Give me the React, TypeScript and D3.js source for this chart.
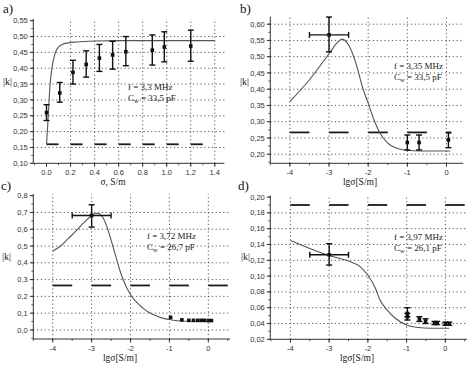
import React from 'react';
import * as d3 from 'd3';

const W = 474, H = 370;

// ---------- Panel a ----------
const aPtX = [0.0, 0.11, 0.22, 0.33, 0.44, 0.55, 0.66, 0.88, 0.98, 1.2];
const aPtY = [0.26, 0.322, 0.387, 0.412, 0.432, 0.442, 0.452, 0.457, 0.467, 0.47];
const aPtLo = [0.235, 0.293, 0.35, 0.372, 0.39, 0.397, 0.408, 0.41, 0.42, 0.422];
const aPtHi = [0.285, 0.355, 0.425, 0.455, 0.475, 0.485, 0.5, 0.505, 0.515, 0.52];
const aCurveX = [0, 0.01, 0.02, 0.03, 0.045, 0.06, 0.08, 0.1, 0.13, 0.18, 0.25, 0.4, 0.6, 1.0, 1.4];
const aCurveY = [0.16, 0.22, 0.29, 0.35, 0.40, 0.43, 0.455, 0.467, 0.475, 0.48, 0.483, 0.486, 0.487, 0.487, 0.487];
const aXTicks = [0, 0.2, 0.4, 0.6, 0.8, 1.0, 1.2, 1.4];
const aYTicks = [0.10, 0.15, 0.20, 0.25, 0.30, 0.35, 0.40, 0.45, 0.50, 0.55];
const aDashLevel = 0.16;
const aDashStarts = [0, 0.2, 0.4, 0.6, 0.8, 1.0, 1.2];
const aDashEnds = [0.1, 0.3, 0.5, 0.7, 0.9, 1.1, 1.3];

// ---------- Panel b ----------
const bPtX = [-1.0, -0.7, 0.05];
const bPtY = [0.236, 0.236, 0.244];
const bPtLo = [0.213, 0.213, 0.22];
const bPtHi = [0.259, 0.259, 0.266];
const bBigX = -3, bBigY = 0.567, bBigYLo = 0.515, bBigYHi = 0.622, bBigXLo = -3.5, bBigXHi = -2.5;
const bCurveX = [-4, -3.5, -3, -2.8, -2.66, -2.5, -2.3, -2.15, -2.0, -1.85, -1.7, -1.5, -1.2, -1.0, -0.7, 0.1];
const bCurveY = [0.362, 0.429, 0.509, 0.542, 0.554, 0.536, 0.475, 0.408, 0.357, 0.305, 0.265, 0.234, 0.216, 0.212, 0.21, 0.21];
const bXTicks = [-4, -3, -2, -1, 0];
const bYTicks = [0.20, 0.25, 0.30, 0.35, 0.40, 0.45, 0.50, 0.55, 0.60];
const bDashLevel = 0.267;
const bDashStarts = [-4, -3, -2, -1, 0];
const bDashEnds = [-3.5, -2.5, -1.5, -0.5, 0.12];

// ---------- Panel c ----------
const cPtX = [-0.97, -0.68, -0.5, -0.38, -0.27, -0.18, -0.1, 0.0, 0.08];
const cPtY = [0.075, 0.06, 0.057, 0.057, 0.057, 0.057, 0.057, 0.056, 0.056];
const cBigX = -3, cBigY = 0.682, cBigYLo = 0.613, cBigYHi = 0.746, cBigXLo = -3.5, cBigXHi = -2.5;
const cCurveX = [-4, -3.8, -3.6, -3.4, -3.2, -3.0, -2.9, -2.8, -2.7, -2.6, -2.5, -2.4, -2.3, -2.2, -2.0, -1.8, -1.6, -1.4, -1.2, -1.0, -0.8, -0.6, 0.1];
const cCurveY = [0.47, 0.50, 0.545, 0.59, 0.64, 0.68, 0.695, 0.692, 0.665, 0.61, 0.535, 0.455, 0.375, 0.305, 0.21, 0.155, 0.115, 0.09, 0.072, 0.062, 0.055, 0.052, 0.05];
const cXTicks = [-4, -3, -2, -1, 0];
const cYTicks = [0.0, 0.1, 0.2, 0.3, 0.4, 0.5, 0.6, 0.7, 0.8];
const cDashLevel = 0.265;
const cDashStarts = [-4, -3, -2, -1, 0];
const cDashEnds = [-3.5, -2.5, -1.5, -0.5, 0.5];

// ---------- Panel d ----------
const dPtX = [-0.98, -0.98, -0.67, -0.51, -0.28, -0.21, 0.0, 0.1];
const dPtY = [0.0528, 0.0485, 0.0456, 0.043, 0.0406, 0.0406, 0.0397, 0.0397];
const dPtLo = [0.0485, 0.0444, 0.0426, 0.040, 0.0386, 0.0386, 0.0377, 0.0377];
const dPtHi = [0.060, 0.0528, 0.0486, 0.046, 0.0426, 0.0426, 0.0417, 0.0417];
const dBigX = -3, dBigY = 0.127, dBigYLo = 0.114, dBigYHi = 0.141, dBigXLo = -3.5, dBigXHi = -2.5;
const dCurveX = [-4, -3.5, -3, -2.5, -2.2, -2.0, -1.8, -1.7, -1.5, -1.3, -1.0, -0.7, -0.4, 0.1];
const dCurveY = [0.145, 0.135, 0.126, 0.119, 0.112, 0.101, 0.084, 0.071, 0.057, 0.047, 0.038, 0.035, 0.034, 0.034];
const dXTicks = [-4, -3, -2, -1, 0];
const dYTicks = [0.02, 0.04, 0.06, 0.08, 0.10, 0.12, 0.14, 0.16, 0.18, 0.20];
const dDashLevel = 0.19;
const dDashStarts = [-4, -3, -2, -1, 0];
const dDashEnds = [-3.5, -2.5, -1.5, -0.5, 0.5];

const comma = (f: (n: number) => string) => (n: number) => f(n).replace('.', ',').replace('−', '-');

type Spec = {
  xDomain: number[]; xRange: number[]; yDomain: number[]; yRange: number[];
  xTicks: number[]; yTicks: number[]; xMinorStep: number; yMinorStep: number;
  xFmt: (n: number) => string; yFmt: (n: number) => string;
  gridX: number[]; gridY: number[];
  curveX: number[]; curveY: number[];
  ptX: number[]; ptY: number[]; ptLo?: number[]; ptHi?: number[];
  big?: { x: number; y: number; yLo: number; yHi: number; xLo: number; xHi: number };
  dashLevel: number; dashStarts: number[]; dashEnds: number[];
  label: string; labelPos: number[];
  xLabel: string; xLabelPos: number[];
  kPos: number[];
  fText: string; cText: string; textPos: number[];
};

const AXIS = '#333';
const INK = '#111';
const SANS = "'Liberation Sans', Arial, sans-serif";
const SERIF = "'Liberation Serif', 'Times New Roman', serif";

function Panel({ s }: { s: Spec }) {
  const x = d3.scaleLinear().domain(s.xDomain).range(s.xRange);
  const y = d3.scaleLinear().domain(s.yDomain).range(s.yRange);
  const x0 = s.xRange[0], x1 = s.xRange[1];
  const yb = s.yRange[0], yt = s.yRange[1];
  const line = d3.line<number>().x((_, i) => x(s.curveX[i])).y(d => y(d)).curve(d3.curveMonotoneX);
  const xMinor = d3.range(Math.ceil(s.xDomain[0] / s.xMinorStep) * s.xMinorStep, s.xDomain[1] + 1e-9, s.xMinorStep);
  const yMinor = d3.range(Math.ceil(s.yDomain[0] / s.yMinorStep) * s.yMinorStep, s.yDomain[1] + 1e-9, s.yMinorStep);
  const cap = 3;
  return (
    <g>
      {s.gridY.map((v, i) => (
        <line key={'gy' + i} x1={x0} x2={x1} y1={y(v)} y2={y(v)} stroke="#444" strokeWidth={0.9} strokeDasharray="1.2,2.6" />
      ))}
      {s.gridX.map((v, i) => (
        <line key={'gx' + i} x1={x(v)} x2={x(v)} y1={yb} y2={yt} stroke="#444" strokeWidth={0.9} strokeDasharray="1.2,2.6" />
      ))}
      {s.dashStarts.map((v, i) => (
        <line key={'ds' + i} x1={x(v)} x2={x(s.dashEnds[i])} y1={y(s.dashLevel)} y2={y(s.dashLevel)} stroke="#1a1a1a" strokeWidth={1.8} />
      ))}
      <path d={line(s.curveY) || ''} fill="none" stroke="#555" strokeWidth={1.1} />
      {s.ptLo && s.ptHi && s.ptX.map((v, i) => (
        <g key={'eb' + i} stroke={INK} strokeWidth={1.4}>
          <line x1={x(v)} x2={x(v)} y1={y(s.ptLo![i])} y2={y(s.ptHi![i])} />
          <line x1={x(v) - cap} x2={x(v) + cap} y1={y(s.ptLo![i])} y2={y(s.ptLo![i])} />
          <line x1={x(v) - cap} x2={x(v) + cap} y1={y(s.ptHi![i])} y2={y(s.ptHi![i])} />
        </g>
      ))}
      {s.ptX.map((v, i) => (
        <rect key={'pt' + i} x={x(v) - 1.8} y={y(s.ptY[i]) - 1.8} width={3.6} height={3.6} fill={INK} />
      ))}
      {s.big && (
        <g stroke={INK} strokeWidth={1.4}>
          <line x1={x(s.big.x)} x2={x(s.big.x)} y1={y(s.big.yLo)} y2={y(s.big.yHi)} />
          <line x1={x(s.big.x) - cap} x2={x(s.big.x) + cap} y1={y(s.big.yLo)} y2={y(s.big.yLo)} />
          <line x1={x(s.big.x) - cap} x2={x(s.big.x) + cap} y1={y(s.big.yHi)} y2={y(s.big.yHi)} />
          <line x1={x(s.big.xLo)} x2={x(s.big.xHi)} y1={y(s.big.y)} y2={y(s.big.y)} />
          <line x1={x(s.big.xLo)} x2={x(s.big.xLo)} y1={y(s.big.y) - cap} y2={y(s.big.y) + cap} />
          <line x1={x(s.big.xHi)} x2={x(s.big.xHi)} y1={y(s.big.y) - cap} y2={y(s.big.y) + cap} />
          <rect x={x(s.big.x) - 1.8} y={y(s.big.y) - 1.8} width={3.6} height={3.6} fill={INK} stroke="none" />
        </g>
      )}
      <line x1={x0} x2={x0} y1={yb} y2={yt} stroke={AXIS} strokeWidth={1} />
      <line x1={x0} x2={x1} y1={yb} y2={yb} stroke={AXIS} strokeWidth={1} />
      {xMinor.map((v, i) => (
        <line key={'xm' + i} x1={x(v)} x2={x(v)} y1={yb} y2={yb + 2} stroke={AXIS} strokeWidth={0.8} />
      ))}
      {yMinor.map((v, i) => (
        <line key={'ym' + i} x1={x0 - 2} x2={x0} y1={y(v)} y2={y(v)} stroke={AXIS} strokeWidth={0.8} />
      ))}
      {s.xTicks.map((v, i) => (
        <g key={'xt' + i}>
          <line x1={x(v)} x2={x(v)} y1={yb} y2={yb + 3.5} stroke={AXIS} strokeWidth={1} />
          <text x={x(v)} y={yb + 11.5} textAnchor="middle" fontSize={7.5} fontFamily={SANS} fill="#333">{s.xFmt(v)}</text>
        </g>
      ))}
      {s.yTicks.map((v, i) => (
        <g key={'yt' + i}>
          <line x1={x0 - 3.5} x2={x0} y1={y(v)} y2={y(v)} stroke={AXIS} strokeWidth={1} />
          <text x={x0 - 5.5} y={y(v) + 2.6} textAnchor="end" fontSize={7.5} fontFamily={SANS} fill="#333">{s.yFmt(v)}</text>
        </g>
      ))}
      <text x={s.labelPos[0]} y={s.labelPos[1]} fontSize={13} fontFamily={SERIF} fill="#111">{s.label}</text>
      <text x={s.xLabelPos[0]} y={s.xLabelPos[1]} textAnchor="middle" fontSize={9.5} fontFamily={SERIF} fill="#222">{s.xLabel}</text>
      <text x={s.kPos[0]} y={s.kPos[1]} fontSize={10} fontFamily={SERIF} fill="#222">|k|</text>
      <text x={s.textPos[0]} y={s.textPos[1]} fontSize={9} fontFamily={SERIF} fill="#222">{s.fText}</text>
      <text x={s.textPos[0]} y={s.textPos[1] + 11} fontSize={9} fontFamily={SERIF} fill="#222">
        C<tspan fontSize={6.5} dy={2}>w</tspan><tspan dy={-2}>{' = ' + s.cText}</tspan>
      </text>
    </g>
  );
}

const fmtInt = (n: number) => d3.format('d')(n).replace('−', '-');

const specs: Spec[] = [
  {
    xDomain: [-0.11, 1.48], xRange: [33.3, 224.4], yDomain: [0.1, 0.556], yRange: [163.3, 18.8],
    xTicks: aXTicks, yTicks: aYTicks, xMinorStep: 0.1, yMinorStep: 0.025,
    xFmt: d3.format('.1f'), yFmt: comma(d3.format('.2f')),
    gridX: aXTicks.slice(1), gridY: aYTicks.slice(1, -1),
    curveX: aCurveX, curveY: aCurveY,
    ptX: aPtX, ptY: aPtY, ptLo: aPtLo, ptHi: aPtHi,
    dashLevel: aDashLevel, dashStarts: aDashStarts, dashEnds: aDashEnds,
    label: 'a)', labelPos: [3, 13], xLabel: 'σ, S/m', xLabelPos: [113, 185], kPos: [3, 85],
    fText: 'f = 3,3 MHz', cText: '33,5 pF', textPos: [128, 90],
  },
  {
    xDomain: [-4.5, 0.43], xRange: [270.3, 463.3], yDomain: [0.172, 0.623], yRange: [163.3, 16.7],
    xTicks: bXTicks, yTicks: bYTicks, xMinorStep: 0.5, yMinorStep: 0.025,
    xFmt: fmtInt, yFmt: comma(d3.format('.2f')),
    gridX: bXTicks, gridY: bYTicks,
    curveX: bCurveX, curveY: bCurveY,
    ptX: bPtX, ptY: bPtY, ptLo: bPtLo, ptHi: bPtHi,
    big: { x: bBigX, y: bBigY, yLo: bBigYLo, yHi: bBigYHi, xLo: bBigXLo, xHi: bBigXHi },
    dashLevel: bDashLevel, dashStarts: bDashStarts, dashEnds: bDashEnds,
    label: 'b)', labelPos: [240, 13], xLabel: 'lgσ[S/m]', xLabelPos: [360, 185], kPos: [240, 85],
    fText: 'f = 3,35 MHz', cText: '33,5 pF', textPos: [394, 69],
  },
  {
    xDomain: [-4.5, 0.56], xRange: [33.3, 230.1], yDomain: [-0.054, 0.81], yRange: [339, 194],
    xTicks: cXTicks, yTicks: cYTicks, xMinorStep: 0.5, yMinorStep: 0.05,
    xFmt: fmtInt, yFmt: comma(d3.format('.1f')),
    gridX: cXTicks, gridY: cYTicks.slice(0, -1),
    curveX: cCurveX, curveY: cCurveY,
    ptX: cPtX, ptY: cPtY,
    big: { x: cBigX, y: cBigY, yLo: cBigYLo, yHi: cBigYHi, xLo: cBigXLo, xHi: cBigXHi },
    dashLevel: cDashLevel, dashStarts: cDashStarts, dashEnds: cDashEnds,
    label: 'c)', labelPos: [1, 190], xLabel: 'lgσ[S/m]', xLabelPos: [120, 361], kPos: [2, 260],
    fText: 'f = 3,72 MHz', cText: '26,7 pF', textPos: [147, 239],
  },
  {
    xDomain: [-4.52, 0.56], xRange: [270.3, 467], yDomain: [0.02, 0.202], yRange: [339.3, 195.5],
    xTicks: dXTicks, yTicks: dYTicks, xMinorStep: 0.5, yMinorStep: 0.01,
    xFmt: fmtInt, yFmt: comma(d3.format('.2f')),
    gridX: dXTicks, gridY: dYTicks.slice(1, -1),
    curveX: dCurveX, curveY: dCurveY,
    ptX: dPtX, ptY: dPtY, ptLo: dPtLo, ptHi: dPtHi,
    big: { x: dBigX, y: dBigY, yLo: dBigYLo, yHi: dBigYHi, xLo: dBigXLo, xHi: dBigXHi },
    dashLevel: dDashLevel, dashStarts: dDashStarts, dashEnds: dDashEnds,
    label: 'd)', labelPos: [238, 190], xLabel: 'lgσ[S/m]', xLabelPos: [357, 361], kPos: [241, 260],
    fText: 'f = 3,97 MHz', cText: '26,1 pF', textPos: [394, 240],
  },
];

export default function App() {
  return (
    <svg width={W} height={H} viewBox={`0 0 ${W} ${H}`} style={{ position: 'absolute', left: 0, top: 0, background: '#fff' }}>
      <rect width={W} height={H} fill="#fff" />
      {specs.map((s, i) => <Panel key={i} s={s} />)}
    </svg>
  );
}
